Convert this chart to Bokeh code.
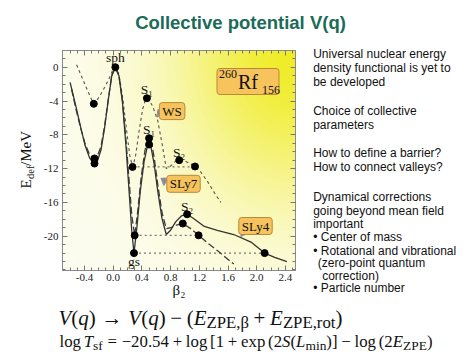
import numpy as np
from bokeh.plotting import figure
from bokeh.layouts import column, row
from bokeh.models import (Label, LinearAxis, FixedTicker, PrintfTickFormatter, CustomJSTickFormatter,
                          Arrow, NormalHead, Range1d)
from bokeh.core.properties import value
from bokeh.embed import file_html
from bokeh.resources import INLINE

# ---------------- data ----------------
sly4_beta = [-0.60, -0.52, -0.45, -0.39, -0.33, -0.29, -0.26, -0.22, -0.17, -0.12,
             -0.07, -0.02, 0.03, 0.08, 0.13, 0.18, 0.22, 0.26, 0.29, 0.33,
             0.38, 0.43, 0.47, 0.50, 0.53, 0.57, 0.62, 0.68, 0.74, 0.80,
             0.87, 0.95, 1.03, 1.12, 1.27, 1.45, 1.68, 1.92, 2.11, 2.25, 2.42]
sly4_E = [-1.8, -4.6, -7.2, -9.3, -10.7, -11.2, -11.4, -11.1, -9.8, -7.2,
          -4.0, -1.0, 0.0, -1.0, -4.2, -9.5, -14.5, -19.5, -22.0, -19.0,
          -14.5, -11.2, -9.6, -9.15, -9.6, -11.4, -14.6, -17.9, -19.8, -19.3,
          -18.3, -17.6, -17.4, -17.9, -18.85, -19.3, -19.8, -20.7, -22.0, -22.5, -23.0]

sly7_beta = [-0.58, -0.52, -0.45, -0.39, -0.33, -0.29, -0.26, -0.22, -0.17, -0.12,
             -0.07, -0.02, 0.03, 0.08, 0.13, 0.18, 0.22, 0.26, 0.30, 0.34,
             0.39, 0.44, 0.47, 0.50, 0.53, 0.57, 0.62, 0.68, 0.74, 0.80,
             0.88, 0.97, 1.08, 1.19, 1.30, 1.45, 1.58, 1.68]
sly7_E = [-2.6, -4.9, -7.3, -9.1, -10.3, -10.7, -10.8, -10.5, -9.4, -7.0,
          -3.9, -1.0, 0.0, -1.0, -4.0, -8.8, -13.2, -17.6, -19.9, -17.2,
          -13.0, -10.0, -8.8, -8.4, -8.8, -10.6, -13.8, -17.2, -19.1, -19.0,
          -18.7, -18.5, -19.1, -19.9, -20.7, -21.7, -22.6, -23.3]

ws_beta = [-0.51, -0.45, -0.39, -0.33, -0.29, -0.27, -0.24, -0.18, -0.12, -0.06,
           -0.01, 0.03, 0.08, 0.13, 0.18, 0.23, 0.27, 0.31, 0.36, 0.41,
           0.45, 0.47, 0.50, 0.55, 0.62, 0.68, 0.74, 0.80, 0.86, 0.92,
           1.00, 1.07, 1.14, 1.22, 1.32, 1.42, 1.50]
ws_E = [0.3, -0.9, -2.1, -3.3, -4.0, -4.33, -4.1, -3.3, -2.4, -1.4,
        -0.4, 0.0, -0.8, -3.4, -7.0, -10.4, -11.8, -10.6, -7.6, -5.0,
        -3.8, -3.67, -3.9, -4.6, -6.3, -9.0, -12.0, -11.7, -11.2, -11.0,
        -11.1, -11.4, -11.75, -12.4, -13.6, -15.0, -16.0]

# marked points: [inner min, gs, S1, S2, exit] ; sph shared
sph_beta, sph_E = 0.03, 0.0
ws_pts_beta = [-0.27, 0.27, 0.47, 0.92, 1.14]
ws_pts_E = [-4.33, -11.8, -3.67, -11.0, -11.75]
sly7_pts_beta = [-0.26, 0.30, 0.50, 0.97, 1.19]
sly7_pts_E = [-10.8, -19.9, -8.4, -18.5, -19.9]
sly4_pts_beta = [-0.26, 0.29, 0.50, 1.03, 2.11]
sly4_pts_E = [-11.4, -22.0, -9.15, -17.4, -22.0]

x_tick_values = [-0.4, 0.0, 0.4, 0.8, 1.2, 1.6, 2.0, 2.4]
y_tick_values = [-20, -16, -12, -8, -4, 0]

X0, X1 = -0.706, 2.54
Y0, Y1 = -24.06, 1.98

SERIF = "Liberation Serif"
SANS = "Liberation Sans"
ROW_TOP, ROW_H = 40, 262
F_TOP = ROW_TOP + ROW_H


def no_align(f):
    try:
        f.frame_align = False
    except Exception:
        pass
    return f


def blank_fig(w, h):
    f = figure(width=w, height=h, x_range=Range1d(0, w), y_range=Range1d(h, 0),
               output_backend="svg", toolbar_location=None, min_border=0,
               x_axis_location=None, y_axis_location=None)
    f.grid.visible = False
    f.outline_line_color = None
    f.background_fill_color = "white"
    f.border_fill_color = "white"
    return no_align(f)


def add_text(fig, ox, oy, text, x, y, size, font=SANS, style="normal", color="#111111",
             align="left", baseline="middle", angle=0.0, **kw):
    fig.add_layout(Label(x=x - ox, y=y - oy, x_units="canvas", y_units="canvas", text=text, text_font=font,
                         text_font_size=f"{size:.2f}px", text_font_style=style, text_color=color,
                         text_align=align, text_baseline=baseline, angle=angle, **kw))


# ---------------- chart ----------------
p = figure(width=260, height=ROW_H, x_range=Range1d(X0, X1), y_range=Range1d(Y0, Y1),
           output_backend="svg", toolbar_location=None,
           min_border_left=21, min_border_right=5, min_border_top=10, min_border_bottom=32)
no_align(p)
p.grid.visible = False
p.background_fill_color = "white"
p.border_fill_color = "white"
p.outline_line_color = "#8a8a8a"

# background gradient (yellow glow in upper-right corner)
nx, ny = 234, 220
u = np.linspace(0, 1, nx)[None, :]
v = np.linspace(0, 1, ny)[:, None]
dx = (1 - u) * nx
dy = (1 - v) * ny
w = np.exp(-((dx / 120.0) ** 2 + (dy / 150.0) ** 2))
c0 = np.array([253, 253, 240], dtype=float)
c1 = np.array([240, 236, 40], dtype=float)
rgb = c0[None, None, :] + (c1 - c0)[None, None, :] * w[..., None]
img = np.zeros((ny, nx), dtype=np.uint32)
view = img.view(dtype=np.uint8).reshape((ny, nx, 4))
view[..., 0:3] = np.clip(rgb, 0, 255).astype(np.uint8)
view[..., 3] = 255
p.image_rgba(image=[img], x=X0, y=Y0, dw=X1 - X0, dh=Y1 - Y0)

# ground-state reference lines
gs_b0 = [ws_pts_beta[1], sly7_pts_beta[1], sly4_pts_beta[1]]
gs_b1 = [ws_pts_beta[4], sly7_pts_beta[4], sly4_pts_beta[4]]
gs_e = [ws_pts_E[1], sly7_pts_E[1], sly4_pts_E[1]]
p.segment(x0=gs_b0, y0=gs_e, x1=gs_b1, y1=gs_e, line_color="#777777", line_width=1.1, line_dash="2 3")

# curves
p.line(ws_beta, ws_E, line_color="#555555", line_width=1.1, line_dash="3 3")
p.line(sly7_beta, sly7_E, line_color="#3c3c3c", line_width=1.3, line_dash="7 3")
p.line(sly4_beta, sly4_E, line_color="#333333", line_width=1.3)

# points
pts_b = [sph_beta] + ws_pts_beta + sly7_pts_beta + sly4_pts_beta
pts_e = [sph_E] + ws_pts_E + sly7_pts_E + sly4_pts_E
p.scatter(pts_b, pts_e, size=7, color="black")

# point labels
lab_text = ["sph", "S\u2081", "S\u2081", "S\u2082", "S\u2082", "gs"]
lab_b = [sph_beta, ws_pts_beta[2], sly7_pts_beta[2], ws_pts_beta[3], sly4_pts_beta[3], sly4_pts_beta[1]]
lab_e = [sph_E, ws_pts_E[2], sly7_pts_E[2], ws_pts_E[3], sly4_pts_E[3], sly4_pts_E[1]]
lab_dy = [-10, -9, -9, -8, -8, 8]
p.text(x=lab_b, y=lab_e, text=lab_text, y_offset=lab_dy, text_align="center", text_baseline="middle",
       text_font=value(SERIF), text_font_size="13.5px", text_color="#111111")

# axes
ax_style = dict(major_tick_in=5, major_tick_out=0, minor_tick_in=3, minor_tick_out=0,
                axis_line_color="#8a8a8a", major_tick_line_color="#777777", minor_tick_line_color="#777777")
x_minor = list(np.round(np.arange(-0.7, 2.55, 0.1), 2))
y_minor = list(range(-24, 3))
xt = FixedTicker(ticks=x_tick_values, minor_ticks=x_minor)
yt = FixedTicker(ticks=y_tick_values, minor_ticks=y_minor)
for ax in p.xaxis:
    ax.ticker = xt
    ax.formatter = PrintfTickFormatter(format="%.1f")
    ax.major_label_standoff = 3
    ax.axis_label = "\u03b2\u2082"
    ax.axis_label_text_font = SERIF
    ax.axis_label_text_font_style = "normal"
    ax.axis_label_text_font_size = "15px"
    ax.axis_label_text_color = "#111111"
    ax.axis_label_standoff = -2
for ax in p.yaxis:
    ax.ticker = yt
    ax.formatter = PrintfTickFormatter(format="%d")
    ax.major_label_standoff = 4
for ax in list(p.xaxis) + list(p.yaxis):
    ax.update(**ax_style)
    ax.major_label_text_font = SERIF
    ax.major_label_text_font_size = "11px"
    ax.major_label_text_color = "#222222"
empty_fmt = CustomJSTickFormatter(code="return ''")
p.add_layout(LinearAxis(ticker=xt, formatter=empty_fmt, major_label_standoff=0, **ax_style), "above")
p.add_layout(LinearAxis(ticker=yt, formatter=empty_fmt, major_label_standoff=0, **ax_style), "right")

# arrows to the curves
for (xs, ys, xe, ye) in [(0.653, -5.36, 0.608, -5.91), (0.716, -13.05, 0.705, -14.0), (1.846, -19.33, 1.777, -20.04)]:
    p.add_layout(Arrow(x_start=xs, y_start=ys, x_end=xe, y_end=ye, line_color="#8c8c9c", line_width=2,
                       end=NormalHead(size=7, fill_color="#8c8c9c", line_color="#8c8c9c")))

# boxed labels (positions in page pixels; chart canvas starts at 40,40)
box = dict(background_fill_color="#f6c35c", border_line_color="#b8893a", border_line_width=1, border_radius=3)
add_text(p, 40, ROW_TOP, "WS", 171.6, 110.6, 13, font=SERIF, align="center", padding=(3, 3, 1, 1), **box)
add_text(p, 40, ROW_TOP, "SLy7", 183, 183.3, 13, font=SERIF, align="center", padding=(3, 3, 1, 1), **box)
add_text(p, 40, ROW_TOP, "SLy4", 255, 225.5, 13, font=SERIF, align="center", padding=(3, 3, 1, 1), **box)
add_text(p, 40, ROW_TOP, "Rf", 247.5, 81, 20, font=SERIF, align="center", padding=(21, 21, 2, 2), **box)
add_text(p, 40, ROW_TOP, "260", 218.5, 73, 12, font=SERIF)
add_text(p, 40, ROW_TOP, "156", 261.5, 89, 12, font=SERIF)

# ---------------- title strip ----------------
t_fig = blank_fig(474, ROW_TOP)
add_text(t_fig, 0, 0, "Collective potential V(q)", 240, 21.7, 18.5, style="bold", color="#1b6b58", align="center")

# ---------------- y axis title strip ----------------
yl_fig = blank_fig(40, ROW_H)
add_text(yl_fig, 0, ROW_TOP, "E", 25, 188, 15, font=SERIF, angle=np.pi / 2)
add_text(yl_fig, 0, ROW_TOP, "def", 29.8, 178.5, 10.5, font=SERIF, angle=np.pi / 2)
add_text(yl_fig, 0, ROW_TOP, "/MeV", 25, 165.5, 15, font=SERIF, angle=np.pi / 2)

# ---------------- side text ----------------
s_fig = blank_fig(174, ROW_H)
side_lines = [
    ("Universal nuclear energy", 312.7, 53.3),
    ("density functional is yet to", 312.7, 67.3),
    ("be developed", 312.7, 81.7),
    ("Choice of collective", 312.7, 110),
    ("parameters", 312.7, 124),
    ("How to define a barrier?", 312.7, 152.7),
    ("How to connect valleys?", 312.7, 166),
    ("Dynamical corrections", 312.7, 196.7),
    ("going beyond mean field", 312.7, 210),
    ("important", 312.7, 223.3),
    ("\u2022 Center of mass", 312.7, 236.7),
    ("\u2022 Rotational and vibrational", 312.7, 250),
    ("(zero-point quantum", 317.3, 262.3),
    ("correction)", 321.7, 275),
    ("\u2022 Particle number", 312.7, 287.3),
]
for t, x, y in side_lines:
    add_text(s_fig, 300, ROW_TOP, t, x, y, 12)

# ---------------- formulas ----------------
f_fig = blank_fig(474, 355 - F_TOP)
REG = {"(": 333, ")": 333, "[": 333, "]": 333, "+": 564, "=": 564, "\u2212": 564, ".": 250, ",": 250,
       "l": 278, "o": 500, "g": 500, "e": 444, "x": 500, "p": 500, "m": 778, "i": 278, "n": 500,
       "r": 333, "t": 278, "s": 389, "f": 333, "Z": 611, "P": 556, "E": 611, "\u03b2": 500, "\u2192": 1000}
ITA = {"V": 611, "q": 500, "E": 611, "T": 556, "S": 500, "L": 556}
SUB = 0.8


def piece_w(t, k):
    tab = ITA if k == "i" else REG
    return sum(tab.get(c, 500) for c in t) / 1000.0 * (SUB if k == "s" else 1.0)


f1 = [("V", "i"), ("(", "n"), ("q", "i"), (")", "n"), 0.278, ("\u2192", "n"), 0.278,
      ("V", "i"), ("(", "n"), ("q", "i"), (")", "n"), 0.222, ("\u2212", "n"), 0.222,
      ("(", "n"), ("E", "i"), ("ZPE,\u03b2", "s"), 0.222, ("+", "n"), 0.222,
      ("E", "i"), ("ZPE,rot", "s"), (")", "n")]
f2 = [("log", "n"), 0.167, ("T", "i"), ("sf", "s"), 0.278, ("=", "n"), 0.278, ("\u221220.54", "n"), 0.222,
      ("+", "n"), 0.222, ("log", "n"), 0.167, ("[1", "n"), 0.222, ("+", "n"), 0.222, ("exp", "n"), 0.167,
      ("(2", "n"), ("S", "i"), ("(", "n"), ("L", "i"), ("min", "s"), (")]", "n"), 0.222, ("\u2212", "n"), 0.222,
      ("log", "n"), 0.167, ("(2", "n"), ("E", "i"), ("ZPE", "s"), (")", "n")]
# (spec, x start, x end, main-text centre y, subscript centre y)
for spec, x_start, x_end, yc, ys in [(f1, 58, 342, 317, 321.6), (f2, 59, 432, 341, 345)]:
    natural = sum(s if isinstance(s, float) else piece_w(*s) for s in spec)
    M = (x_end - x_start) / natural
    x = x_start
    for s in spec:
        if isinstance(s, float):
            x += s * M
            continue
        t, k = s
        if k == "s":
            add_text(f_fig, 0, F_TOP, t, x, ys, M * SUB, font=SERIF)
        else:
            add_text(f_fig, 0, F_TOP, t, x, yc, M, font=SERIF, style="italic" if k == "i" else "normal")
        x += piece_w(t, k) * M

page = column(t_fig, row(yl_fig, p, s_fig), f_fig)
open("out.html", "w").write(file_html(page, INLINE))
